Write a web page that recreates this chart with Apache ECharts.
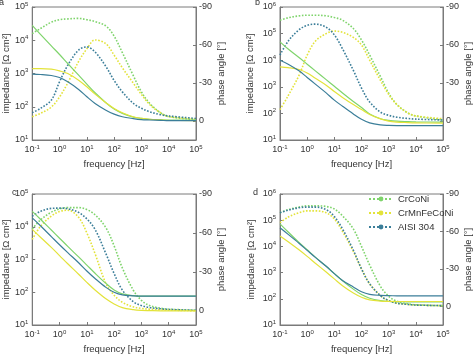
<!DOCTYPE html>
<html><head><meta charset="utf-8">
<script src="https://cdn.jsdelivr.net/npm/echarts@6/dist/echarts.min.js"></script>
<style>html,body{margin:0;padding:0;background:#fff}#c{width:474px;height:355px}</style>
</head><body><div id="c"></div>
<script>
// ---------- data ----------
const freq = [0.1, 0.2, 0.5, 1, 2, 5, 10, 20, 50, 100, 200, 500, 1000, 2000, 5000, 10000, 100000];
const materials = ['CrCoNi', 'CrMnFeCoNi', 'AISI 304'];
const panelLetters = ['a', 'b', 'c', 'd'];
const phaseTicks = [-90, -60, -30, 0];

// panel a: impedance [Ohm cm2], phase [deg]
const a_Z_CrCoNi     = [28200, 15100, 6760, 3720, 2000, 891, 479, 263, 132, 85, 63, 49, 45, 42, 41, 40, 40];
const a_Z_CrMnFeCoNi = [1410, 1410, 1350, 1200, 1000, 631, 398, 240, 132, 89, 66, 50, 45, 42, 40, 39, 38];
const a_Z_AISI304    = [955, 933, 871, 759, 562, 331, 200, 126, 79, 60, 50, 44, 41, 40, 39, 38, 38];
const a_P_CrCoNi     = [-69, -73, -78, -80, -80.6, -81, -80, -78.5, -75, -67, -54, -36, -23, -14, -6.5, -3.5, -1];
const a_P_CrMnFeCoNi = [-3.4, -6, -11, -19, -30, -47, -57, -64, -61, -52, -42, -30, -21, -13, -6.5, -3.5, -1.5];
const a_P_AISI304    = [-6.5, -10, -16.5, -31, -44, -56, -58.5, -54.5, -43, -32, -23, -14, -10, -7.3, -5, -4, -2];

// panel b
const b_Z_CrCoNi     = [49000, 26300, 12600, 7080, 3980, 1860, 1050, 589, 282, 166, 95, 63, 55, 51, 49, 48, 47];
const b_Z_CrMnFeCoNi = [5620, 5250, 4470, 3310, 2090, 1150, 661, 398, 214, 141, 91, 62, 51, 47, 45, 44, 43];
const b_Z_AISI304    = [10000, 7080, 3980, 2240, 1260, 589, 316, 186, 95, 60, 44, 37, 35.5, 35, 35, 35, 35];
const b_P_CrCoNi     = [-79.6, -81.5, -83, -83.5, -83.5, -83, -81.7, -79.6, -73, -64, -52, -35, -22, -13, -6.5, -4, -0.8];
const b_P_CrMnFeCoNi = [-9, -20, -36, -52, -63, -69, -71, -70, -66, -60, -48, -32, -21, -13, -6.5, -4, -1.8];
const b_P_AISI304    = [-52, -63, -72, -75.5, -76.5, -74, -68, -57, -40, -26, -15, -7, -4.5, -3, -2, -1.5, -0.8];

// panel c
const c_Z_CrCoNi     = [29500, 17000, 7940, 4470, 2510, 1200, 676, 380, 186, 117, 89, 79, 76, 76, 76, 76, 76];
const c_Z_CrMnFeCoNi = [8320, 4790, 2340, 1320, 741, 355, 200, 117, 63, 44, 34, 29.5, 28, 27.5, 27, 27, 27];
const c_Z_AISI304    = [18600, 10700, 5010, 2820, 1620, 794, 447, 263, 141, 100, 83, 78, 76, 76, 76, 76, 76];
const c_P_CrCoNi     = [-63, -70, -76, -78.5, -79.5, -79.5, -78, -74, -64, -50, -33, -16, -8, -4, -2, -1.2, -0.4];
const c_P_CrMnFeCoNi = [-55, -65, -73, -76.5, -77.5, -72, -60, -44, -21, -12, -6.5, -3, -1.8, -1.2, -0.8, -0.5, 0];
const c_P_AISI304    = [-72.8, -76.6, -78.9, -79.1, -78.6, -75.8, -70.8, -62.7, -44, -28.7, -16, -7, -4, -2.5, -1.5, -1, -0.3];

// panel d
const d_Z_CrCoNi     = [72400, 35500, 14100, 7410, 3890, 1740, 912, 490, 234, 145, 105, 85, 79, 78, 76, 76, 76];
const d_Z_CrMnFeCoNi = [25100, 15100, 7410, 4170, 2290, 1050, 575, 316, 166, 115, 91, 82, 80, 79, 79, 79, 79];
const d_Z_AISI304    = [51300, 28800, 13200, 7080, 3800, 1740, 912, 501, 282, 186, 148, 135, 132, 130, 129, 129, 129];
const d_P_CrCoNi     = [-75, -77.5, -79.5, -80.5, -80.5, -80, -78, -72.5, -62, -48, -33, -16, -8, -4, -2, -1.2, -0.5];
const d_P_CrMnFeCoNi = [-67, -71.5, -75, -76.5, -76.5, -75, -70, -60, -44, -30, -18, -8.5, -4.5, -2.5, -1.5, -1, -0.5];
const d_P_AISI304    = [-75, -77, -79, -79.5, -79.5, -77.5, -72, -62, -45, -30, -18, -8.5, -4.5, -2.5, -1.5, -1, -0.5];

// axis ranges per panel
const zMaxes = [1e5, 1e6, 1e5, 1e6];
const phaseMaxes = [15, 15, 11, 15];

// ---------- layout / style ----------
const colors = ['#7fd46c', '#e3e33a', '#3b7e99'];
const FONT = 'Liberation Sans';
const AX = '#7a7a7a';
const TXT = '#333';
const layouts = [
  {left: 29, top: 7, width: 167, height: 133, yGap: 20, letter: [-1, 6]},
  {left: 280, top: 7, width: 166, height: 133, yGap: 25, letter: [255, 6]},
  {left: 29, top: 194, width: 167, height: 133, yGap: 20, letter: [12, 196]},
  {left: 280, top: 194, width: 166, height: 133, yGap: 24, letter: [253, 196]}
];
const Zs = [
  [a_Z_CrCoNi, a_Z_CrMnFeCoNi, a_Z_AISI304],
  [b_Z_CrCoNi, b_Z_CrMnFeCoNi, b_Z_AISI304],
  [c_Z_CrCoNi, c_Z_CrMnFeCoNi, c_Z_AISI304],
  [d_Z_CrCoNi, d_Z_CrMnFeCoNi, d_Z_AISI304]
];
const Ps = [
  [a_P_CrCoNi, a_P_CrMnFeCoNi, a_P_AISI304],
  [b_P_CrCoNi, b_P_CrMnFeCoNi, b_P_AISI304],
  [c_P_CrCoNi, c_P_CrMnFeCoNi, c_P_AISI304],
  [d_P_CrCoNi, d_P_CrMnFeCoNi, d_P_AISI304]
];

const powLabel = {
  formatter: v => '{b|10}{s|' + Math.round(Math.log10(v)) + '}',
  rich: {
    b: {fontSize: 9, fontFamily: FONT, color: TXT, lineHeight: 12},
    s: {fontSize: 6, fontFamily: FONT, color: TXT, lineHeight: 7, verticalAlign: 'top'}
  }
};

const grid = [], xAxis = [], yAxis = [], series = [], graphic = [];
layouts.forEach((L, i) => {
  grid.push({left: L.left, top: L.top, width: L.width, height: L.height,
    show: true, borderColor: AX, borderWidth: 1, backgroundColor: 'transparent'});
  xAxis.push({
    type: 'log', logBase: 10, gridIndex: i, min: 0.1, max: 1e5, splitNumber: 6,
    name: 'frequency [Hz]', nameLocation: 'middle', nameGap: 19,
    nameTextStyle: {fontSize: 9.5, fontFamily: FONT, color: TXT},
    axisLine: {show: true, onZero: false, lineStyle: {color: AX}},
    axisTick: {show: true, inside: true, length: 3, lineStyle: {color: AX}},
    splitLine: {show: false},
    axisLabel: Object.assign({margin: 4, showMinLabel: true, showMaxLabel: true}, powLabel)
  });
  yAxis.push({
    type: 'log', logBase: 10, gridIndex: i, min: 10, max: zMaxes[i],
    name: 'impedance [Ω cm²]', nameLocation: 'middle', nameGap: L.yGap,
    nameTextStyle: {fontSize: 9.5, fontFamily: FONT, color: TXT},
    axisLine: {show: true, onZero: false, lineStyle: {color: AX}},
    axisTick: {show: true, inside: true, length: 3, lineStyle: {color: AX}},
    splitLine: {show: false},
    axisLabel: Object.assign({margin: 4}, powLabel)
  });
  yAxis.push({
    type: 'value', gridIndex: i, position: 'right', inverse: true,
    min: -90, max: phaseMaxes[i], interval: 30,
    name: 'phase angle [°]', nameLocation: 'middle', nameGap: 20,
    nameTextStyle: {fontSize: 9.5, fontFamily: FONT, color: TXT},
    axisLine: {show: true, onZero: false, lineStyle: {color: AX}},
    axisTick: {show: true, inside: true, length: 3, lineStyle: {color: AX}},
    splitLine: {show: false},
    axisLabel: {margin: 3, fontSize: 9, fontFamily: FONT, color: TXT,
      formatter: v => phaseTicks.indexOf(v) >= 0 ? String(v) : ''}
  });
  materials.forEach((m, k) => {
    series.push({
      name: m + ' |Z|', type: 'line', xAxisIndex: i, yAxisIndex: 2 * i,
      data: freq.map((f, j) => [f, Zs[i][k][j]]),
      smooth: 0.35, symbol: 'none', z: 3,
      lineStyle: {color: colors[k], width: 1.2}
    });
    series.push({
      name: m, type: 'line', xAxisIndex: i, yAxisIndex: 2 * i + 1,
      data: freq.map((f, j) => [f, Ps[i][k][j]]),
      smooth: 0.35, symbol: 'circle', symbolSize: 3, showSymbol: false, z: 2,
      itemStyle: {color: colors[k]},
      lineStyle: {color: colors[k], width: 1.6, type: 'dotted'}
    });
  });
  graphic.push({type: 'text', left: L.letter[0], top: L.letter[1] - 8,
    style: {text: panelLetters[i], font: '9px ' + FONT, fill: TXT}});
});

const chart = echarts.init(document.getElementById('c'), null, {renderer: 'canvas'});
chart.setOption({
  animation: false,
  backgroundColor: '#fff',
  textStyle: {fontFamily: FONT},
  grid, xAxis, yAxis, series, graphic,
  legend: {
    data: materials, orient: 'vertical', left: 368, top: 194,
    itemWidth: 24, itemHeight: 6, itemGap: 4, padding: 0,
    textStyle: {fontSize: 9.5, fontFamily: FONT, color: TXT}
  }
});
</script></body></html>
